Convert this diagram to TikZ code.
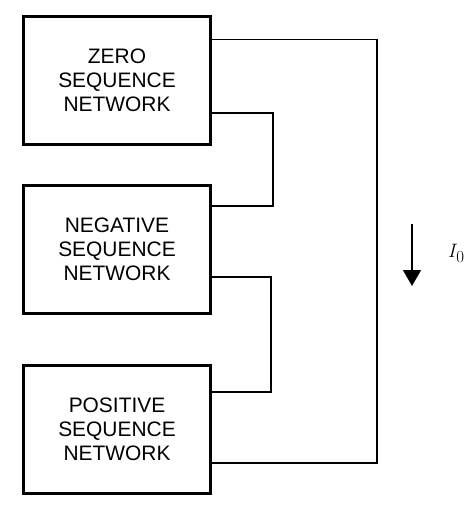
\documentclass[tikz,border=0pt]{standalone}
\usepackage{fontspec}
\newfontfamily\boxfont{Liberation Sans}
\usetikzlibrary{positioning,arrows.meta}

\tikzset{
	netbox/.style={draw, line width=3bp, minimum width=187bp, minimum height=128bp, align=center, font=\boxfont\fontsize{21}{24}\selectfont},
	wire/.style={line width=1.5bp},
}

\begin{document}
\begin{tikzpicture}[x=1bp, y=1bp]
		\useasboundingbox (0,0) rectangle (474,-507);
		% the three sequence networks
		\node [netbox] (zero) at (117,-80.5) {ZERO\\SEQUENCE\\NETWORK};
		\node [netbox] (neg) at (117,-249.5) {NEGATIVE\\SEQUENCE\\NETWORK};
		\node [netbox] (pos) at (117,-429) {POSITIVE\\SEQUENCE\\NETWORK};
		% corners of the connections
		\coordinate (za) at (273,-113);
		\coordinate (na) at (273,-206);
		\coordinate (nb) at (271,-277);
		\coordinate (pa) at (271,-392);
		\coordinate (top) at (377,-39.5);
		\coordinate (bot) at (377,-463);
		\draw [wire] (zero.east |- za) -- (za) -- (na) -- (neg.east |- na);
		\draw [wire] (neg.east |- nb) -- (nb) -- (pa) -- (pos.east |- pa);
		\draw [wire] (zero.east |- top) -- (top) -- (bot) -- (pos.east |- bot);
		% current
		\coordinate (ia) at (412,-224);
		\coordinate (ib) at (412,-286);
		\draw [wire, -{Triangle[width=18bp, length=16bp]}] (ia) -- (ib);
		\node [font=\fontsize{19.5}{24}\selectfont] (curr) at (456,-253) {\itshape I\kern1bp\upshape\raisebox{-5bp}{\fontsize{17}{20}\selectfont 0}};
\end{tikzpicture}
\end{document}
